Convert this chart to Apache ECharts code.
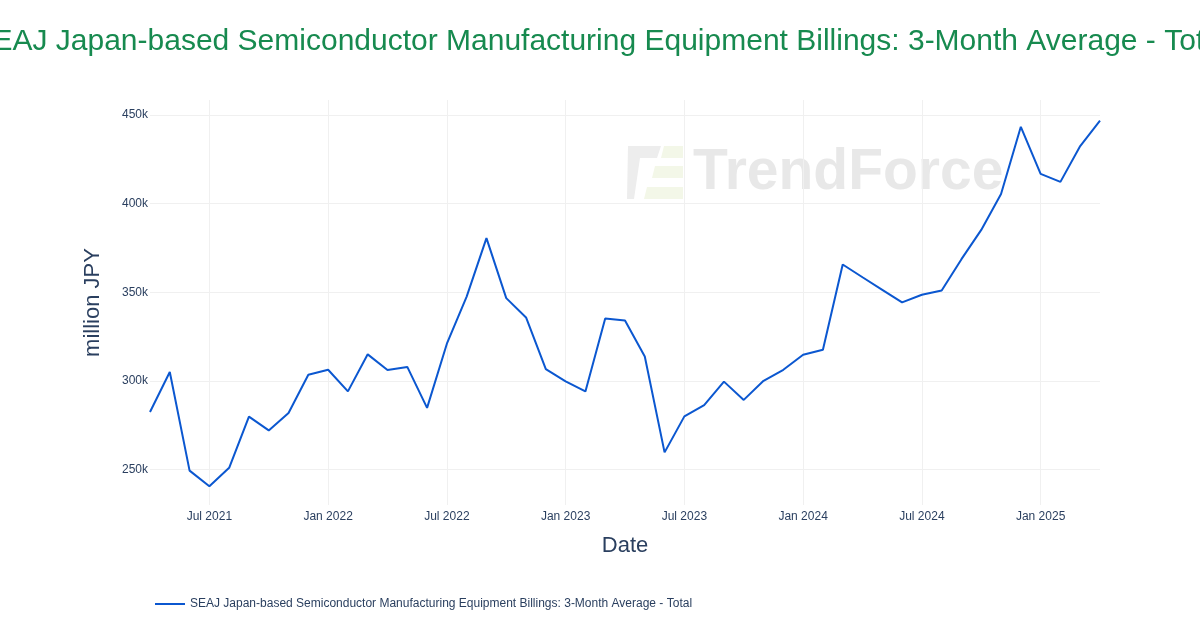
<!DOCTYPE html>
<html>
<head>
<meta charset="utf-8">
<script src="https://cdn.jsdelivr.net/npm/echarts@6/dist/echarts.min.js"></script>
<style>
  html, body { margin: 0; padding: 0; background: #fff; }
  #chart { width: 1200px; height: 630px; }
</style>
</head>
<body>
<div id="chart"></div>
<script>
"use strict";

const TITLE = "SEAJ Japan-based Semiconductor Manufacturing Equipment Billings: 3-Month Average - Total";
const SERIES_NAME = "SEAJ Japan-based Semiconductor Manufacturing Equipment Billings: 3-Month Average - Total";

// monthly, Apr 2021 .. Apr 2025
const months = [
  "2021-04", "2021-05", "2021-06", "2021-07", "2021-08", "2021-09", "2021-10", "2021-11", "2021-12",
  "2022-01", "2022-02", "2022-03", "2022-04", "2022-05", "2022-06", "2022-07", "2022-08", "2022-09",
  "2022-10", "2022-11", "2022-12", "2023-01", "2023-02", "2023-03", "2023-04", "2023-05", "2023-06",
  "2023-07", "2023-08", "2023-09", "2023-10", "2023-11", "2023-12", "2024-01", "2024-02", "2024-03",
  "2024-04", "2024-05", "2024-06", "2024-07", "2024-08", "2024-09", "2024-10", "2024-11", "2024-12",
  "2025-01", "2025-02", "2025-03", "2025-04"
];

// million JPY
const billings = [
  282500, 305000, 249400, 240600, 251000, 279900, 272100, 281900, 303500,
  306300, 294100, 315000, 306200, 307900, 284800, 321000, 347600, 380600,
  346700, 335800, 306700, 299800, 294100, 335200, 334100, 313800, 259700,
  280000, 286400, 299600, 289300, 300100, 306300, 314800, 317600, 365700,
  358500, 351400, 344300, 348600, 351000, 368700, 385200, 405500, 443400,
  416800, 412300, 432500, 446800
];

const monthNames = ["Jan", "Feb", "Mar", "Apr", "May", "Jun", "Jul", "Aug", "Sep", "Oct", "Nov", "Dec"];
const isTickMonth = (i) => { const m = +months[i].slice(5, 7); return m === 1 || m === 7; };
const monthLabel = (s) => monthNames[+s.slice(5, 7) - 1] + " " + s.slice(0, 4);

const textColor = "#2a3f5f";
const gridColor = "#f0f0f0";
const font = "Liberation Sans, Arial, sans-serif";

const chart = echarts.init(document.getElementById("chart"));
chart.setOption({
  animation: false,
  backgroundColor: "#fff",
  title: {
    text: TITLE,
    left: "center",
    top: 22,
    textStyle: { color: "#178a4f", fontSize: 30, fontWeight: "normal", fontFamily: font }
  },
  // TrendForce watermark
  graphic: [
    { type: "polygon", silent: true, z: 0, shape: { points: [[628, 146], [661, 146], [657, 158], [640, 158], [634, 199], [627, 199]] }, style: { fill: "#ededed" } },
    { type: "polygon", silent: true, z: 0, shape: { points: [[664, 146], [683, 146], [683, 158], [661, 158]] }, style: { fill: "#f3f7e8" } },
    { type: "polygon", silent: true, z: 0, shape: { points: [[655, 166], [683, 166], [683, 178], [652, 178]] }, style: { fill: "#f3f7e8" } },
    { type: "polygon", silent: true, z: 0, shape: { points: [[647, 187], [683, 187], [683, 199], [644, 199]] }, style: { fill: "#f3f7e8" } },
    {
      type: "text", silent: true, z: 0, left: 693, top: 145,
      style: { text: "TrendForce", fill: "#e8e8e8", fontFamily: "Liberation Sans", fontWeight: "bold", fontSize: 57 }
    }
  ],
  legend: {
    left: 150,
    top: 593,
    icon: "rect",
    itemWidth: 30,
    itemHeight: 2,
    textStyle: { color: textColor, fontSize: 12, fontFamily: font },
    data: [SERIES_NAME]
  },
  grid: { left: 150, right: 100, top: 100, bottom: 125, containLabel: false },
  xAxis: {
    type: "category",
    data: months,
    boundaryGap: false,
    name: "Date",
    nameLocation: "middle",
    nameGap: 30,
    nameTextStyle: { color: textColor, fontSize: 22, fontFamily: font },
    axisLine: { show: false },
    axisTick: { show: false },
    axisLabel: {
      interval: (i) => isTickMonth(i),
      formatter: monthLabel,
      color: textColor, fontSize: 12, margin: 6,
      fontFamily: font
    },
    splitLine: { show: true, interval: (i) => isTickMonth(i), lineStyle: { color: gridColor, width: 1 } }
  },
  yAxis: {
    type: "value",
    min: 230000,
    max: 458500,
    splitNumber: 5,
    name: "million JPY",
    nameLocation: "middle",
    nameGap: 46,
    nameTextStyle: { color: textColor, fontSize: 22, fontFamily: font },
    axisLine: { show: false },
    axisTick: { show: false },
    axisLabel: {
      color: textColor, fontSize: 12, margin: 2,
      fontFamily: font,
      showMinLabel: false, showMaxLabel: false,
      formatter: (v) => (v % 50000 === 0 ? v / 1000 + "k" : "")
    },
    splitLine: { show: true, showMinLine: false, showMaxLine: false, lineStyle: { color: gridColor, width: 1 } }
  },
  series: [{
    name: SERIES_NAME,
    type: "line",
    data: billings,
    showSymbol: false,
    symbol: "none",
    lineStyle: { color: "#0b57d0", width: 2 },
    itemStyle: { color: "#0b57d0" },
    z: 5
  }]
});
</script>
</body>
</html>
